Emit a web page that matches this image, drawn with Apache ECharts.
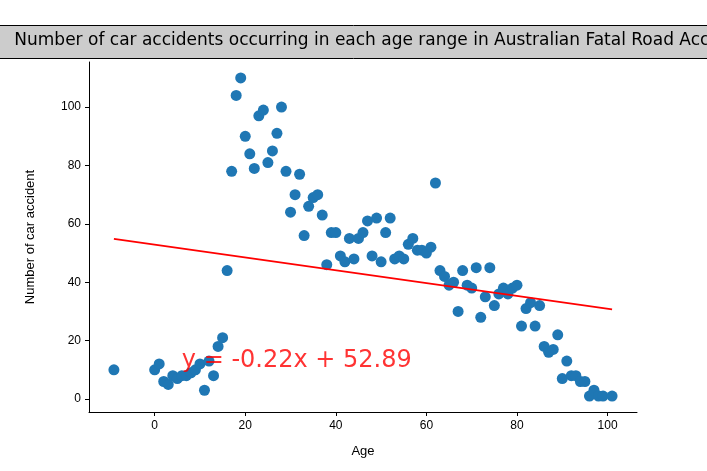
<!DOCTYPE html><html><head><meta charset="utf-8"><script src="https://cdn.jsdelivr.net/npm/echarts@6/dist/echarts.min.js"></script>
<style>body{margin:0}#c{width:707px;height:471px}</style></head><body><div id="c"></div><script>
const ages=[-9,0,1,2,3,4,5,6,7,8,9,10,11,12,13,14,15,16,17,18,19,20,21,22,23,24,25,26,27,28,29,30,31,32,33,34,35,36,37,38,39,40,41,42,43,44,45,46,47,48,49,50,51,52,53,54,55,56,57,58,59,60,61,62,63,64,65,66,67,68,69,70,71,72,73,74,75,76,77,78,79,80,81,82,83,84,85,86,87,88,89,90,91,92,93,94,95,96,97,98,99,101];
const counts=[10,10,12,6,5,8,7,8,8,9,10,12,3,13,8,18,21,44,78,104,110,90,84,79,97,99,81,85,91,100,78,64,70,77,56,66,69,70,63,46,57,57,49,47,55,48,55,57,61,49,62,47,57,62,48,49,48,53,55,51,51,50,52,74,44,42,39,40,30,44,39,38,45,28,35,45,32,36,38,36,38,39,25,31,33,25,32,18,16,17,22,7,13,8,8,6,6,1,3,1,1,1];
const fitSlope=-0.22, fitIntercept=52.89;
const fitX=[-9,101];
const tickVals=[0,20,40,60,80,100];
const titleText='Number of car accidents occurring in each age range in Australian Fatal Road Accident 1989 - 2021';
const pts=ages.map((a,i)=>[a,counts[i]]);
const line=fitX.map(x=>[x,fitSlope*x+fitIntercept]);
const c=echarts.init(document.getElementById('c'));
c.setOption({animation:false,
graphic:[{type:'rect',left:-5,top:25,shape:{width:720,height:33},style:{fill:'#cccccc',stroke:'#000',lineWidth:1}},
{type:'text',x:438,y:41,style:{text:titleText,fontSize:17,fontFamily:'DejaVu Sans',fill:'#000',align:'center',verticalAlign:'middle'}}],
grid:{left:89,right:70,top:62,bottom:59},
xAxis:{type:'value',min:-14.5,max:106.5,name:'Age',nameLocation:'middle',nameGap:33,nameTextStyle:{fontSize:13,color:'#000'},
axisLine:{onZero:false,lineStyle:{color:'#000'}},axisTick:{show:true,length:4,lineStyle:{color:'#000'},customValues:tickVals},
axisLabel:{color:'#000',fontSize:12,customValues:tickVals},
splitLine:{show:false}},
yAxis:{type:'value',min:-4.45,max:115.45,name:'Number of car accident',nameLocation:'middle',nameGap:52,nameTextStyle:{fontSize:13,color:'#000'},
axisLine:{show:true,onZero:false,lineStyle:{color:'#000'}},axisTick:{show:true,length:4,lineStyle:{color:'#000'},customValues:tickVals},
axisLabel:{color:'#000',fontSize:12,customValues:tickVals},splitLine:{show:false}},
series:[{type:'scatter',data:pts,symbolSize:11,itemStyle:{color:'#1f77b4',opacity:1}},
{type:'line',data:line,symbol:'none',lineStyle:{color:'#ff0000',width:1.8},z:3},
{type:'scatter',data:[[6,13]],symbolSize:0,z:5,label:{show:true,position:'right',distance:0,formatter:'y = '+fitSlope+'x + '+fitIntercept,fontSize:24,color:'#ff0000',fontFamily:'DejaVu Sans'}}]});
</script></body></html>
